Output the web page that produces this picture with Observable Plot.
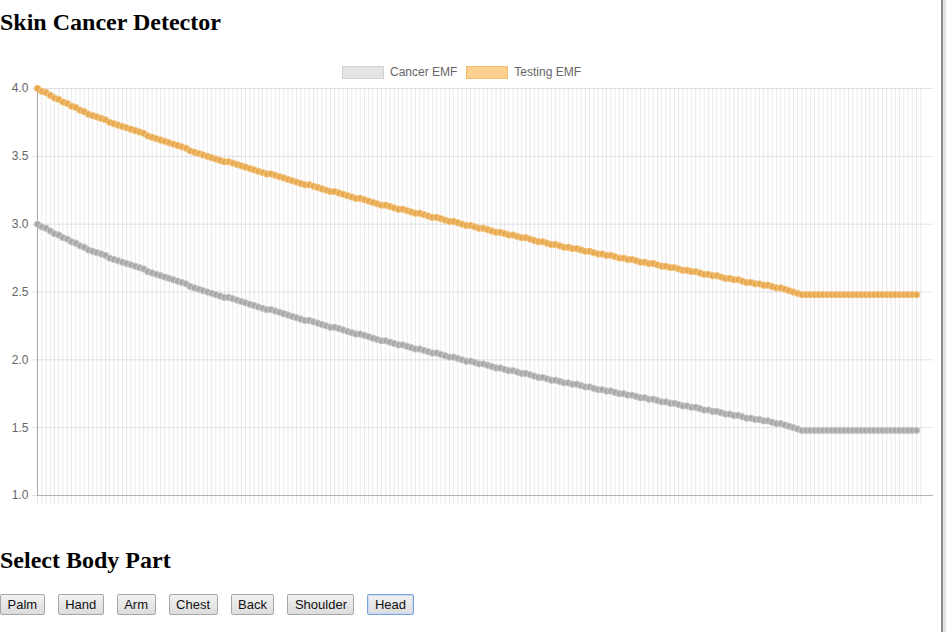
<!DOCTYPE html>
<html><head><meta charset="utf-8">
<script src="https://cdn.jsdelivr.net/npm/d3@7"></script>
<script src="https://cdn.jsdelivr.net/npm/@observablehq/plot@0.6"></script>
<style>
html,body{margin:0;padding:0;background:#fff;overflow:hidden}
body{width:946px;height:632px;position:relative;font-family:"Liberation Sans",Arial,sans-serif}
h2{font-family:"Liberation Serif","Times New Roman",serif;font-weight:bold;font-size:24px;margin:0;color:#000;position:absolute;left:0;line-height:28px;white-space:nowrap}
#title{top:8px}
#sub{top:546px}
#legend{position:absolute;top:66px;left:342px;display:flex;align-items:center;font-size:12px;color:#666;line-height:13px}
.box{width:40px;height:11px;border:1px solid;margin-right:6px}
.lbl{margin-right:9px}
#chart{position:absolute;top:78px;left:0}
#buttons{position:absolute;top:594px;left:0;display:flex;gap:13px}
button{font-family:"Liberation Sans",Arial,sans-serif;font-size:13px;height:21px;padding:0 6.5px;border:1px solid #a6a6a6;border-radius:2px;background:linear-gradient(#f2f2f2,#dcdcdc);color:#111;line-height:19px}
button.focus{border-color:#7ba3da;box-shadow:0 0 0 1px #c6d8f2 inset}
#sb1{position:absolute;left:941px;top:0;width:2px;height:632px;background:#8a8a8a}
#sb2{position:absolute;left:943px;top:0;width:3px;height:632px;background:#e3e3e3}
</style></head>
<body>
<h2 id="title">Skin Cancer Detector</h2>
<div id="legend"></div>
<div id="chart"></div>
<h2 id="sub">Select Body Part</h2>
<div id="buttons"></div>
<div id="sb1"></div><div id="sb2"></div>
<script>
const seriesNames = ["Cancer EMF", "Testing EMF"];
const seriesFill = ["#e4e4e4", "#fdd08f"];
const seriesBorder = ["#d2d2d2", "#f2bd70"];
const bodyParts = ["Palm", "Hand", "Arm", "Chest", "Back", "Shoulder", "Head"];
const yTicks = [1.0, 1.5, 2.0, 2.5, 3.0, 3.5, 4.0];
const labelCount = 209;

const cancerEMF = [
3.00,2.98,2.97,2.95,2.93,2.92,2.90,2.89,2.87,2.86,2.84,
2.83,2.81,2.80,2.79,2.78,2.77,2.75,2.74,2.73,2.72,
2.71,2.70,2.69,2.68,2.67,2.65,2.64,2.63,2.62,2.61,
2.60,2.59,2.58,2.57,2.56,2.54,2.53,2.52,2.51,2.50,
2.49,2.48,2.47,2.46,2.46,2.45,2.44,2.43,2.42,2.41,
2.40,2.39,2.38,2.37,2.37,2.36,2.35,2.34,2.33,2.32,
2.31,2.30,2.29,2.29,2.28,2.27,2.26,2.25,2.24,2.24,
2.23,2.22,2.21,2.20,2.19,2.19,2.18,2.17,2.16,2.15,
2.14,2.14,2.13,2.12,2.11,2.11,2.10,2.09,2.08,2.08,
2.07,2.06,2.05,2.05,2.04,2.03,2.02,2.02,2.01,2.00,
1.99,1.99,1.98,1.97,1.97,1.96,1.95,1.94,1.94,1.93,
1.92,1.92,1.91,1.90,1.90,1.89,1.88,1.87,1.87,1.86,
1.85,1.85,1.84,1.83,1.83,1.82,1.82,1.81,1.80,1.80,
1.79,1.78,1.78,1.77,1.77,1.76,1.75,1.75,1.74,1.74,
1.73,1.72,1.72,1.71,1.71,1.70,1.69,1.69,1.68,1.68,
1.67,1.66,1.66,1.65,1.65,1.64,1.63,1.63,1.62,1.62,
1.61,1.60,1.60,1.59,1.59,1.58,1.57,1.57,1.56,1.56,
1.55,1.55,1.54,1.53,1.53,1.52,1.51,1.50,1.49,
1.48,1.48,1.48,1.48,1.48,1.48,1.48,1.48,1.48,1.48,
1.48,1.48,1.48,1.48,1.48,1.48,1.48,1.48,1.48,1.48,
1.48,1.48,1.48,1.48,1.48,1.48,1.48,1.48
];

const testingEMF = [
4.00,3.98,3.97,3.95,3.93,3.92,3.90,3.89,3.87,3.86,3.84,
3.83,3.81,3.80,3.79,3.78,3.77,3.75,3.74,3.73,3.72,
3.71,3.70,3.69,3.68,3.67,3.65,3.64,3.63,3.62,3.61,
3.60,3.59,3.58,3.57,3.56,3.54,3.53,3.52,3.51,3.50,
3.49,3.48,3.47,3.46,3.46,3.45,3.44,3.43,3.42,3.41,
3.40,3.39,3.38,3.37,3.37,3.36,3.35,3.34,3.33,3.32,
3.31,3.30,3.29,3.29,3.28,3.27,3.26,3.25,3.24,3.24,
3.23,3.22,3.21,3.20,3.19,3.19,3.18,3.17,3.16,3.15,
3.14,3.14,3.13,3.12,3.11,3.11,3.10,3.09,3.08,3.08,
3.07,3.06,3.05,3.05,3.04,3.03,3.02,3.02,3.01,3.00,
2.99,2.99,2.98,2.97,2.97,2.96,2.95,2.94,2.94,2.93,
2.92,2.92,2.91,2.90,2.90,2.89,2.88,2.87,2.87,2.86,
2.85,2.85,2.84,2.83,2.83,2.82,2.82,2.81,2.80,2.80,
2.79,2.78,2.78,2.77,2.77,2.76,2.75,2.75,2.74,2.74,
2.73,2.72,2.72,2.71,2.71,2.70,2.69,2.69,2.68,2.68,
2.67,2.66,2.66,2.65,2.65,2.64,2.63,2.63,2.62,2.62,
2.61,2.60,2.60,2.59,2.59,2.58,2.57,2.57,2.56,2.56,
2.55,2.55,2.54,2.53,2.53,2.52,2.51,2.50,2.49,
2.48,2.48,2.48,2.48,2.48,2.48,2.48,2.48,2.48,2.48,
2.48,2.48,2.48,2.48,2.48,2.48,2.48,2.48,2.48,2.48,
2.48,2.48,2.48,2.48,2.48,2.48,2.48,2.48
];

// legend
const legend = document.getElementById("legend");
seriesNames.forEach((name, k) => {
  const b = document.createElement("span");
  b.className = "box";
  b.style.background = seriesFill[k];
  b.style.borderColor = seriesBorder[k];
  const t = document.createElement("span");
  t.className = "lbl";
  t.textContent = name;
  legend.append(b, t);
});

// buttons
const bt = document.getElementById("buttons");
bodyParts.forEach((p, i) => {
  const b = document.createElement("button");
  b.textContent = p;
  if (i === bodyParts.length - 1) b.className = "focus";
  bt.append(b);
});

const xGrid = d3.range(labelCount);
const cancerData = cancerEMF.map((v, i) => ({i, v}));
const testingData = testingEMF.map((v, i) => ({i, v}));

const chart = Plot.plot({
  width: 940,
  height: 427,
  marginLeft: 37,
  marginRight: 7,
  marginTop: 10,
  marginBottom: 10,
  style: {fontFamily: "'Liberation Sans', Arial, sans-serif", fontSize: "12px", background: "transparent"},
  x: {domain: [0, 211], axis: null},
  y: {domain: [1, 4], axis: null},
  marks: [
    Plot.gridX(xGrid, {stroke: "#000", strokeOpacity: 0.09}),
    Plot.gridY(yTicks, {stroke: "#000", strokeOpacity: 0.11}),
    Plot.axisX({ticks: xGrid, tickSize: 9, tickFormat: () => "", label: null, stroke: "#000", strokeOpacity: 0.09}),
    Plot.axisY({ticks: yTicks, tickSize: 5, tickPadding: 4, label: null, tickFormat: d => d.toFixed(1), stroke: "#000", strokeOpacity: 0.11, fill: "#666"}),
    Plot.ruleY([1], {stroke: "#000", strokeOpacity: 0.2}),
    Plot.ruleX([0], {stroke: "#000", strokeOpacity: 0.28}),
    Plot.dot(cancerData, {x: "i", y: "v", r: 3.2, fill: "#a9a9a9", stroke: "#cacaca", strokeWidth: 1}),
    Plot.dot(testingData, {x: "i", y: "v", r: 3.2, fill: "#e8aa50", stroke: "#f5c683", strokeWidth: 1})
  ]
});
document.getElementById("chart").append(chart);
</script>
</body></html>
